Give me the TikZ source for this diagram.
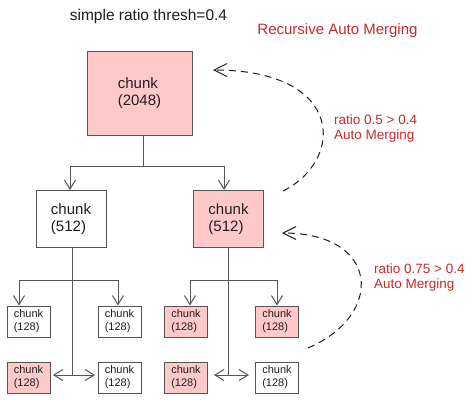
\documentclass[tikz,border=0pt]{standalone}
\usepackage{fontspec}
\setmainfont{Liberation Sans}
\usetikzlibrary{arrows.meta,calc}
\definecolor{linec}{HTML}{555555}
\definecolor{pinkfill}{HTML}{FFC9C9}
\definecolor{redtext}{HTML}{C92A2A}
\definecolor{inkc}{HTML}{1E1E1E}
\tikzset{
  box/.style={draw=linec, line width=1pt, inner sep=0pt, align=left, text=inkc},
  bigbox/.style={box, minimum width=105pt, minimum height=84pt, font=\fontsize{15}{17}\selectfont},
  midbox/.style={box, minimum width=70pt, minimum height=57pt, font=\fontsize{15}{17}\selectfont},
  smallbox/.style={box, minimum width=43pt, minimum height=31pt, font=\fontsize{11}{13}\selectfont},
  hot/.style={fill=pinkfill},
  cold/.style={fill=white},
  conn/.style={draw=linec, line width=1pt},
  arr/.style={conn, -{Straight Barb[length=9pt,width=11pt]}},
  dasharr/.style={draw=inkc, line width=1pt, dash pattern=on 7pt off 5pt, -{Straight Barb[length=13pt,width=13pt]}},
  lbl/.style={text=redtext, align=left, anchor=west, inner sep=0pt, font=\fontsize{13.5}{15}\selectfont}
}
\begin{document}
\begin{tikzpicture}[x=1pt,y=-1pt]
\useasboundingbox[fill=white] (0,0) rectangle (474,400);
% titles
\node[text=inkc, font=\fontsize{15.5}{18}\selectfont] (title) at (148.5,16) {simple ratio thresh=0.4};
\node[text=redtext, font=\fontsize{15}{18}\selectfont] (rec) at (337.5,31) {Recursive Auto Merging};
% boxes
\node[bigbox, hot] (top) at (139.5,93) {chunk\\(2048)};
\node[midbox, cold] (m1) at (71,219) {chunk\\(512)};
\node[midbox, hot] (m2) at (228.5,219) {chunk\\(512)};
\node[smallbox, cold] (a1) at (28.5,321.5) {chunk\\(128)};
\node[smallbox, cold] (a2) at (119.5,321.5) {chunk\\(128)};
\node[smallbox, hot] (a3) at (28.5,377.5) {chunk\\(128)};
\node[smallbox, cold] (a4) at (119.5,377.5) {chunk\\(128)};
\node[smallbox, hot] (b1) at (186,321.5) {chunk\\(128)};
\node[smallbox, hot] (b2) at (277,321.5) {chunk\\(128)};
\node[smallbox, hot] (b3) at (186,377.5) {chunk\\(128)};
\node[smallbox, cold] (b4) at (277,377.5) {chunk\\(128)};
% connectors from top
\coordinate (j0) at (143,166);
\draw[conn] (top.south -| j0) -- (j0);
\draw[arr] (j0) -| ([xshift=-1pt]m1.north);
\draw[arr] (j0) -| ([xshift=-4.5pt]m2.north);
% left subtree
\coordinate (j1) at (72,280);
\coordinate (k1) at (72,375);
\draw[conn] (m1.south -| j1) -- (k1);
\draw[arr] (j1) -| ([xshift=-9.5pt]a1.north);
\draw[arr] (j1) -| ([xshift=-1.5pt]a2.north);
\draw[arr, shorten >=2.5pt] (k1) -- (k1 -| a3.east);
\draw[arr, shorten >=2.5pt] (k1) -- (k1 -| a4.west);
% right subtree
\coordinate (j2) at (228,280);
\coordinate (k2) at (228,375);
\draw[conn] (m2.south -| j2) -- (k2);
\draw[arr] (j2) -| ([xshift=4pt]b1.north);
\draw[arr] (j2) -| (b2.north);
\draw[arr, shorten >=6pt] (k2) -- (k2 -| b3.east);
\draw[arr, shorten >=6pt] (k2) -- (k2 -| b4.west);
% dashed merge arrows
\coordinate (s1) at (283,191);
\coordinate (e1) at (213,70);
\draw[dasharr] (s1) .. controls (345,160) and (345,70) .. (e1);
\coordinate (s2) at (308,348);
\coordinate (e2) at (282,233);
\draw[dasharr] (s2) .. controls (385,315) and (380,233) .. (e2);
% labels
\node[lbl] (l1) at (334,128.5) {ratio 0.5 > 0.4\\Auto Merging};
\node[lbl] (l2) at (374,277.5) {ratio 0.75 > 0.4\\Auto Merging};
\end{tikzpicture}
\end{document}
